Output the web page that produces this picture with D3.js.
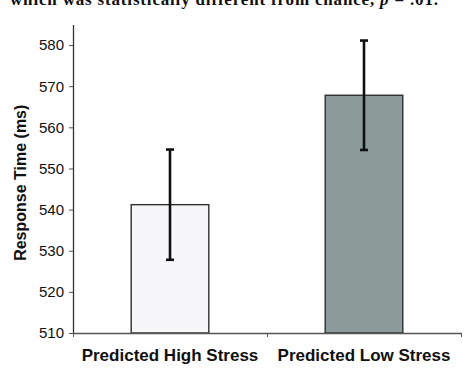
<!DOCTYPE html>
<html>
<head>
<meta charset="utf-8">
<script src="https://d3js.org/d3.v7.min.js"></script>
<style>
  body { margin: 0; background: #fff; }
  svg { display: block; }
</style>
</head>
<body>
<div id="chart"></div>
<script>
// data
const categories = ["Predicted High Stress", "Predicted Low Stress"];
const means = [541.2, 567.8];
const errors = [13.4, 13.3];
const yTicks = [510, 520, 530, 540, 550, 560, 570, 580];
const captionParts = ["which was statistically different from chance, ", "p", " = .01."];

const width = 474, height = 377;
const margin = {top: 24.5, right: 13, bottom: 44, left: 73};

const svg = d3.select("#chart").append("svg")
  .attr("width", width)
  .attr("height", height);

// cut-off caption line from the page above
const cap = svg.append("text")
  .attr("x", 10)
  .attr("y", 4.5)
  .style("font-family", "Liberation Serif, serif")
  .style("font-weight", "bold")
  .style("font-size", "17px")
  .attr("fill", "#111")
  .attr("textLength", 428);
captionParts.forEach((t, i) => {
  cap.append("tspan").style("font-style", i === 1 ? "italic" : "normal").text(t);
});

const y = d3.scaleLinear().domain([510, 585]).range([height - margin.bottom, margin.top]);
const x = d3.scaleBand().domain(categories).range([margin.left, width - margin.right]).padding(0);
const xEdge = d3.scaleLinear().domain([0, categories.length]).range([margin.left, width - margin.right]);

const fills = ["#f7f7f9", "#8b9b99"];
const barW = x.bandwidth() * 0.4;

// bars
svg.selectAll("rect.bar")
  .data(categories)
  .enter()
  .append("rect")
  .attr("class", "bar")
  .attr("x", d => x(d) + x.bandwidth()/2 - barW/2)
  .attr("width", barW)
  .attr("y", (d,i) => y(means[i]))
  .attr("height", (d,i) => y(510) - y(means[i]))
  .attr("fill", (d,i) => fills[i])
  .attr("stroke", "#2e2e2e")
  .attr("stroke-width", 1.4);

// error bars
const capW = 8;
categories.forEach((c,i) => {
  const cx = x(c) + x.bandwidth()/2;
  const g = svg.append("g").attr("stroke", "#111").attr("stroke-width", 2.6);
  g.append("line")
    .attr("x1", cx).attr("x2", cx)
    .attr("y1", y(means[i] - errors[i])).attr("y2", y(means[i] + errors[i]));
  [means[i] - errors[i], means[i] + errors[i]].forEach(v => {
    g.append("line")
      .attr("x1", cx - capW/2).attr("x2", cx + capW/2)
      .attr("y1", y(v)).attr("y2", y(v));
  });
});

// y axis
const yAxis = svg.append("g")
  .attr("transform", `translate(${margin.left},0)`)
  .call(d3.axisLeft(y).tickValues(yTicks).tickSize(4).tickSizeOuter(0).tickPadding(5));
yAxis.select(".domain").attr("stroke", "#333").attr("stroke-width", 1.3);
yAxis.selectAll(".tick line").attr("stroke", "#555");
yAxis.selectAll("text")
  .style("font-family", "Liberation Sans, Arial, sans-serif")
  .style("font-size", "15px")
  .attr("fill", "#111");

// x axis, ticks sit between the categories
const xAxis = svg.append("g")
  .attr("transform", `translate(0,${height - margin.bottom})`)
  .call(d3.axisBottom(xEdge).tickValues([0, 1, 2]).tickSize(4).tickSizeOuter(0).tickFormat(""));
xAxis.select(".domain").attr("stroke", "#555").attr("stroke-width", 1.3);
xAxis.selectAll(".tick line").attr("stroke", "#555");

svg.append("g")
  .selectAll("text")
  .data(categories)
  .enter()
  .append("text")
  .attr("x", d => x(d) + x.bandwidth()/2)
  .attr("y", 361)
  .attr("text-anchor", "middle")
  .style("font-family", "Liberation Sans, Arial, sans-serif")
  .style("font-weight", "bold")
  .style("font-size", "17px")
  .attr("fill", "#111")
  .text(d => d);

// y label
svg.append("text")
  .attr("transform", `translate(26,${(y(510) + y(585))/2 + 4}) rotate(-90)`)
  .attr("text-anchor", "middle")
  .style("font-family", "Liberation Sans, Arial, sans-serif")
  .style("font-weight", "bold")
  .style("font-size", "16px")
  .attr("fill", "#111")
  .text("Response Time (ms)");
</script>
</body>
</html>
